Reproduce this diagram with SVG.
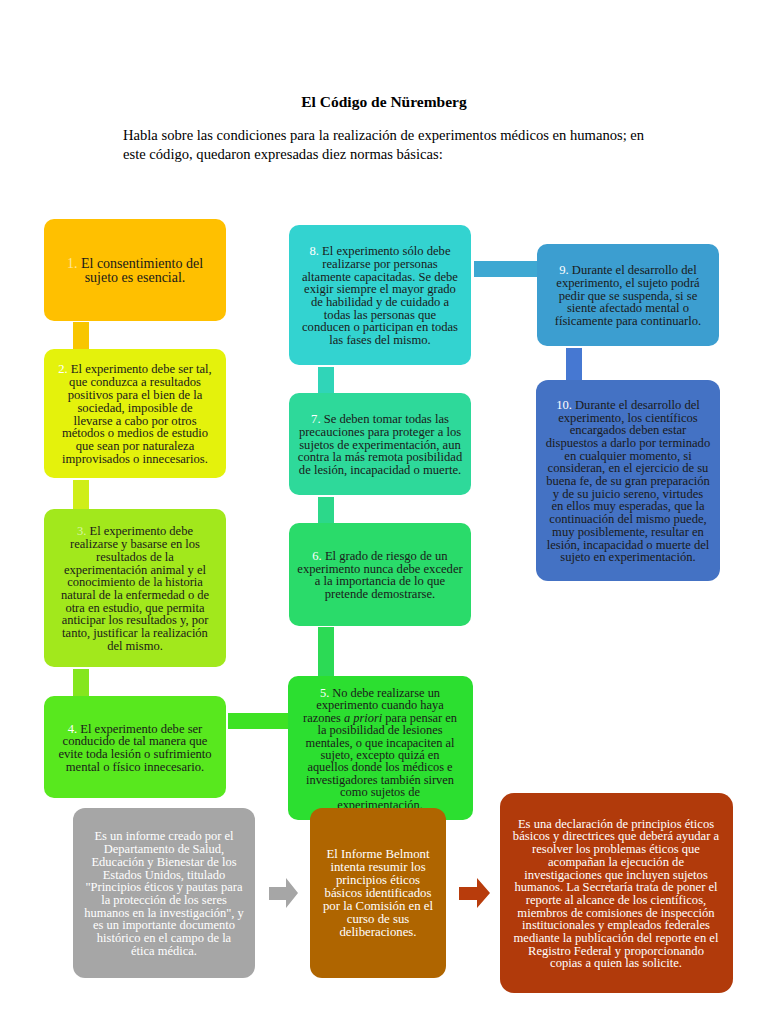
<svg xmlns="http://www.w3.org/2000/svg" width="768" height="1024" viewBox="0 0 768 1024">
<style>
text{font-family:"Liberation Serif","Times New Roman",serif;}
.t{fill:#1a1a1a;text-anchor:middle;}
.w{fill:#ffffff;text-anchor:middle;}
.n{fill:#ffffff;}
.title{font-size:15.5px;font-weight:bold;fill:#000;text-anchor:middle;}
.intro{font-size:14.6px;fill:#000;}
</style>
<rect width="768" height="1024" fill="#ffffff"/>
<text class="title" x="384" y="107">El Código de Nüremberg</text>
<text class="intro"><tspan x="123" y="140">Habla sobre las condiciones para la realización de experimentos médicos en humanos; en</tspan><tspan x="123" y="159">este código, quedaron expresadas diez normas básicas:</tspan></text>

<g id="connectors">
<rect x="73" y="322" width="16" height="27" fill="#F8C600"/>
<rect x="73" y="480" width="16" height="29" fill="#CFEE18"/>
<rect x="73" y="669" width="16" height="27" fill="#84E61E"/>
<rect x="228" y="713" width="61" height="16" fill="#3EE224"/>
<rect x="318" y="627" width="16" height="49" fill="#2CDA55"/>
<rect x="318" y="497" width="16" height="26" fill="#2CD88A"/>
<rect x="318" y="367" width="16" height="26" fill="#30D5B8"/>
<rect x="474" y="261" width="63" height="16" fill="#3EA8D2"/>
<rect x="566" y="348" width="16" height="32" fill="#4678D2"/>
<polygon points="269,887 286,887 286,878 298,893 286,908 286,900 269,900" fill="#A6A6A6"/>
<polygon points="459,887 477,887 477,878 490,893 477,908 477,900 459,900" fill="#B83C0C"/>
</g>

<g id="n1" font-size="14">
<rect x="44" y="219" width="182" height="102" rx="10" fill="#FFC000"/>
<text class="t"><tspan x="135" y="268"><tspan fill="#FFE699">1.</tspan> El consentimiento del</tspan><tspan x="135" y="281.5">sujeto es esencial.</tspan></text>
</g>

<g id="n2" font-size="12.6">
<rect x="44" y="349" width="182" height="129" rx="10" fill="#E4F20C"/>
<text class="t"><tspan x="135" y="372.9"><tspan class="n">2.</tspan> El experimento debe ser tal,</tspan><tspan x="135" y="385.8">que conduzca a resultados</tspan><tspan x="135" y="398.7">positivos para el bien de la</tspan><tspan x="135" y="411.6">sociedad, imposible de</tspan><tspan x="135" y="424.5">llevarse a cabo por otros</tspan><tspan x="135" y="437.4">métodos o medios de estudio</tspan><tspan x="135" y="450.3">que sean por naturaleza</tspan><tspan x="135" y="463.2">improvisados o innecesarios.</tspan></text>
</g>

<g id="n3" font-size="12.5">
<rect x="44" y="509" width="182" height="158" rx="10" fill="#A2E81C"/>
<text class="t"><tspan x="135" y="535.4"><tspan fill="#D8F5A8">3.</tspan> El experimento debe</tspan><tspan x="135" y="548.1">realizarse y basarse en los</tspan><tspan x="135" y="560.8">resultados de la</tspan><tspan x="135" y="573.5">experimentación animal y el</tspan><tspan x="135" y="586.2">conocimiento de la historia</tspan><tspan x="135" y="598.9">natural de la enfermedad o de</tspan><tspan x="135" y="611.6">otra en estudio, que permita</tspan><tspan x="135" y="624.3">anticipar los resultados y, por</tspan><tspan x="135" y="637">tanto, justificar la realización</tspan><tspan x="135" y="649.7">del mismo.</tspan></text>
</g>

<g id="n4" font-size="12.6">
<rect x="44" y="696" width="182" height="102" rx="10" fill="#58E81E"/>
<text class="t"><tspan x="135" y="732.5"><tspan class="n">4.</tspan> El experimento debe ser</tspan><tspan x="135" y="745.2">conducido de tal manera que</tspan><tspan x="135" y="757.9">evite toda lesión o sufrimiento</tspan><tspan x="135" y="770.6">mental o físico innecesario.</tspan></text>
</g>

<g id="n5" font-size="12.4">
<rect x="288" y="676" width="185" height="144" rx="10" fill="#2CDF30"/>
<text class="t"><tspan x="380" y="697"><tspan class="n">5.</tspan> No debe realizarse un</tspan><tspan x="380" y="709.4">experimento cuando haya</tspan><tspan x="380" y="721.8">razones <tspan font-style="italic">a priori</tspan> para pensar en</tspan><tspan x="380" y="734.2">la posibilidad de lesiones</tspan><tspan x="380" y="746.6">mentales, o que incapaciten al</tspan><tspan x="380" y="759">sujeto, excepto quizá en</tspan><tspan x="380" y="771.4">aquellos donde los médicos e</tspan><tspan x="380" y="783.8">investigadores también sirven</tspan><tspan x="380" y="796.2">como sujetos de</tspan><tspan x="380" y="808.6">experimentación.</tspan></text>
</g>

<g id="n6" font-size="12.6">
<rect x="289" y="523" width="182" height="103" rx="10" fill="#2ADB6A"/>
<text class="t"><tspan x="380" y="560"><tspan class="n">6.</tspan> El grado de riesgo de un</tspan><tspan x="380" y="572.7">experimento nunca debe exceder</tspan><tspan x="380" y="585.4">a la importancia de lo que</tspan><tspan x="380" y="598.1">pretende demostrarse.</tspan></text>
</g>

<g id="n7" font-size="12.6">
<rect x="289" y="393" width="182" height="102" rx="10" fill="#2ED99A"/>
<text class="t"><tspan x="380" y="423.1"><tspan class="n">7.</tspan> Se deben tomar todas las</tspan><tspan x="380" y="435.8">precauciones para proteger a los</tspan><tspan x="380" y="448.5">sujetos de experimentación, aun</tspan><tspan x="380" y="461.2">contra la más remota posibilidad</tspan><tspan x="380" y="473.9">de lesión, incapacidad o muerte.</tspan></text>
</g>

<g id="n8" font-size="12.6">
<rect x="289" y="225" width="182" height="140" rx="10" fill="#33D3D0"/>
<text class="t"><tspan x="380" y="255.1"><tspan class="n">8.</tspan> El experimento sólo debe</tspan><tspan x="380" y="267.8">realizarse por personas</tspan><tspan x="380" y="280.5">altamente capacitadas. Se debe</tspan><tspan x="380" y="293.2">exigir siempre el mayor grado</tspan><tspan x="380" y="305.9">de habilidad y de cuidado a</tspan><tspan x="380" y="318.6">todas las personas que</tspan><tspan x="380" y="331.3">conducen o participan en todas</tspan><tspan x="380" y="344">las fases del mismo.</tspan></text>
</g>

<g id="n9" font-size="12.6">
<rect x="537" y="244" width="182" height="102" rx="10" fill="#3C9ED0"/>
<text class="t"><tspan x="628" y="274.1"><tspan class="n">9.</tspan> Durante el desarrollo del</tspan><tspan x="628" y="286.8">experimento, el sujeto podrá</tspan><tspan x="628" y="299.5">pedir que se suspenda, si se</tspan><tspan x="628" y="312.2">siente afectado mental o</tspan><tspan x="628" y="324.9">físicamente para continuarlo.</tspan></text>
</g>

<g id="n10" font-size="12.6">
<rect x="536" y="380" width="184" height="201" rx="12" fill="#4472C4"/>
<text class="t"><tspan x="628" y="408.8"><tspan class="n">10.</tspan> Durante el desarrollo del</tspan><tspan x="628" y="421.5">experimento, los científicos</tspan><tspan x="628" y="434.2">encargados deben estar</tspan><tspan x="628" y="446.9">dispuestos a darlo por terminado</tspan><tspan x="628" y="459.6">en cualquier momento, si</tspan><tspan x="628" y="472.3">consideran, en el ejercicio de su</tspan><tspan x="628" y="485">buena fe, de su gran preparación</tspan><tspan x="628" y="497.7">y de su juicio sereno, virtudes</tspan><tspan x="628" y="510.4">en ellos muy esperadas, que la</tspan><tspan x="628" y="523.1">continuación del mismo puede,</tspan><tspan x="628" y="535.8">muy posiblemente, resultar en</tspan><tspan x="628" y="548.5">lesión, incapacidad o muerte del</tspan><tspan x="628" y="561.2">sujeto en experimentación.</tspan></text>
</g>

<g id="gray" font-size="12.5">
<rect x="73" y="808" width="182" height="170" rx="12" fill="#A6A6A6"/>
<text class="w"><tspan x="164" y="840.4">Es un informe creado por el</tspan><tspan x="164" y="853.1">Departamento de Salud,</tspan><tspan x="164" y="865.8">Educación y Bienestar de los</tspan><tspan x="164" y="878.5">Estados Unidos, titulado</tspan><tspan x="164" y="891.2">"Principios éticos y pautas para</tspan><tspan x="164" y="903.9">la protección de los seres</tspan><tspan x="164" y="916.6">humanos en la investigación", y</tspan><tspan x="164" y="929.3">es un importante documento</tspan><tspan x="164" y="942">histórico en el campo de la</tspan><tspan x="164" y="954.7">ética médica.</tspan></text>
</g>

<g id="belmont" font-size="12.8">
<rect x="310" y="808" width="136" height="170" rx="12" fill="#AF6500"/>
<text class="w" fill="#FFF3E3"><tspan x="378" y="857.5">El Informe Belmont</tspan><tspan x="378" y="870.5">intenta resumir los</tspan><tspan x="378" y="883.5">principios éticos</tspan><tspan x="378" y="896.5">básicos identificados</tspan><tspan x="378" y="909.5">por la Comisión en el</tspan><tspan x="378" y="922.5">curso de sus</tspan><tspan x="378" y="935.5">deliberaciones.</tspan></text>
</g>

<g id="declaracion" font-size="12.6">
<rect x="500" y="793" width="233" height="200" rx="14" fill="#B13A0B"/>
<text class="w"><tspan x="616" y="827.7">Es una declaración de principios éticos</tspan><tspan x="616" y="840.4">básicos y directrices que deberá ayudar a</tspan><tspan x="616" y="853.1">resolver los problemas éticos que</tspan><tspan x="616" y="865.8">acompañan la ejecución de</tspan><tspan x="616" y="878.5">investigaciones que incluyen sujetos</tspan><tspan x="616" y="891.2">humanos. La Secretaría trata de poner el</tspan><tspan x="616" y="903.9">reporte al alcance de los científicos,</tspan><tspan x="616" y="916.6">miembros de comisiones de inspección</tspan><tspan x="616" y="929.3">institucionales y empleados federales</tspan><tspan x="616" y="942">mediante la publicación del reporte en el</tspan><tspan x="616" y="954.7">Registro Federal y proporcionando</tspan><tspan x="616" y="967.4">copias a quien las solicite.</tspan></text>
</g>
</svg>
